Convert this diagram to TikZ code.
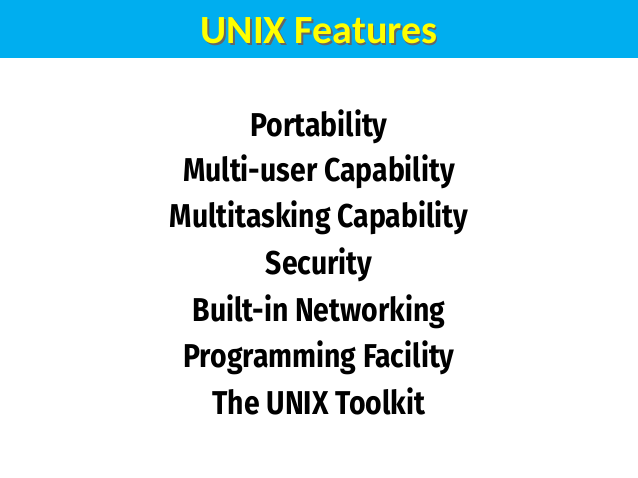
\documentclass[tikz,border=0pt]{standalone}
\usepackage{fontspec}
\newfontfamily\titlefont{Carlito}
\newfontfamily\bodyfont[FakeStretch=0.86]{Fira Sans}
\definecolor{barblue}{HTML}{00AEEF}
\definecolor{titleyel}{HTML}{FFFF00}
\begin{document}
\begin{tikzpicture}[x=1pt,y=-1pt,
  item/.style={font=\bodyfont\bfseries\fontsize{33}{36}\selectfont, text=black, inner sep=0, anchor=base}]
\useasboundingbox (0,0) rectangle (638,478);
\fill[barblue] (0,0) rectangle (638,58);
\node[font=\titlefont\bfseries\fontsize{40}{44}\selectfont, text=black!60, inner sep=0, anchor=base] at (320.5,45.5) {UNIX Features};
\node[font=\titlefont\bfseries\fontsize{40}{44}\selectfont, text=titleyel, inner sep=0, anchor=base] (t) at (319,44) {UNIX Features};
\node[item] (a) at (319,137) {Portability};
\node[item] (b) at (319,182) {Multi-user Capability};
\node[item] (c) at (319,228) {Multitasking Capability};
\node[item] (d) at (319,275) {Security};
\node[item] (e) at (319,322) {Built-in Networking};
\node[item] (f) at (319,368) {Programming Facility};
\node[item] (g) at (319,415) {The UNIX Toolkit};
\end{tikzpicture}
\end{document}
